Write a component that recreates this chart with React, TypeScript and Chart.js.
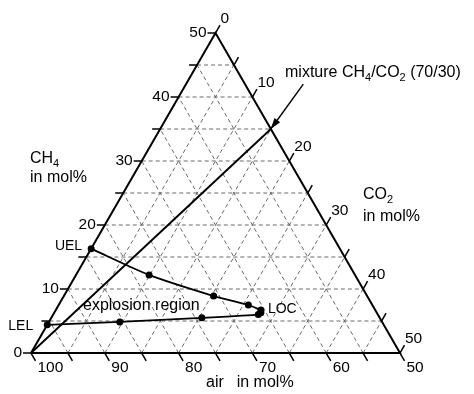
import React, { useEffect, useRef } from "react";
import { Chart, registerables } from "chart.js";

Chart.register(...registerables);

const H = Math.sqrt(3) / 2;

// Axis ticks (every 5 mol%), labelled every 10
const tickValues = [0, 5, 10, 15, 20, 25, 30, 35, 40, 45, 50];
const labelledValues = [0, 10, 20, 30, 40, 50];
const ch4Labels = ["0", "10", "20", "30", "40", "50"];
const co2Labels = ["0", "10", "20", "30", "40", "50"];
const airLabels = ["100", "90", "80", "70", "60", "50"];
const gridValues = [5, 10, 15, 20, 25, 30, 35, 40, 45];

// Triangle frame (CH4, CO2 in mol%)
const frameCH4 = [0, 50, 0, 0];
const frameCO2 = [0, 0, 50, 0];

// Mixture CH4/CO2 (70/30) dilution line
const mixCH4 = [0, 35];
const mixCO2 = [0, 15];

// Arrow pointing to the mixture point
const arrowCH4 = [42, 35];
const arrowCO2 = [15.9, 15];

// Upper explosion limit curve (UEL -> LOC)
const uelCH4 = [16.3, 12.2, 8.9, 7.5, 6.7];
const uelCO2 = [0, 9.9, 20.3, 25.7, 27.8];

// Lower explosion limit curve (LEL -> LOC)
const lelCH4 = [4.4, 4.85, 5.5, 6.0, 6.3];
const lelCO2 = [0, 9.6, 20.4, 27.8, 28.0];

const toXY = (ch4: number, co2: number) => ({ x: co2 + ch4 / 2, y: ch4 * H });
const series = (a: number[], b: number[]) => a.map((v, i) => toXY(v, b[i]));

const FONT = '"Liberation Sans", Arial, sans-serif';

function drawRich(ctx: CanvasRenderingContext2D, parts: [string, boolean][], x: number, y: number, size: number) {
  let cx = x;
  for (const [t, sub] of parts) {
    ctx.font = `${sub ? Math.round(size * 0.7) : size}px ${FONT}`;
    ctx.fillText(t, cx, sub ? y + size * 0.25 : y);
    cx += ctx.measureText(t).width;
  }
}

const ternaryPlugin = {
  id: "ternary",
  beforeDatasetsDraw(chart: any) {
    const { ctx } = chart;
    const xs = chart.scales.x, ys = chart.scales.y;
    const P = (ch4: number, co2: number) => {
      const p = toXY(ch4, co2);
      return [xs.getPixelForValue(p.x), ys.getPixelForValue(p.y)];
    };
    ctx.save();
    ctx.strokeStyle = "#6a6a6a";
    ctx.lineWidth = 1;
    ctx.setLineDash([4, 3]);
    const seg = (a: number[], b: number[]) => {
      ctx.beginPath();
      ctx.moveTo(a[0], a[1]);
      ctx.lineTo(b[0], b[1]);
      ctx.stroke();
    };
    for (const v of gridValues) {
      seg(P(v, 0), P(v, 50 - v)); // CH4 const
      seg(P(0, v), P(50 - v, v)); // CO2 const
      seg(P(0, v), P(v, 0)); // air const
    }
    ctx.restore();
  },
  afterDatasetsDraw(chart: any) {
    const { ctx } = chart;
    const xs = chart.scales.x, ys = chart.scales.y;
    const P = (ch4: number, co2: number) => {
      const p = toXY(ch4, co2);
      return [xs.getPixelForValue(p.x), ys.getPixelForValue(p.y)];
    };
    ctx.save();
    ctx.strokeStyle = "#000";
    ctx.fillStyle = "#000";
    ctx.lineWidth = 1.5;
    ctx.setLineDash([]);
    const L = 9;
    const line = (x1: number, y1: number, x2: number, y2: number) => {
      ctx.beginPath();
      ctx.moveTo(x1, y1);
      ctx.lineTo(x2, y2);
      ctx.stroke();
    };
    for (const v of tickValues) {
      // left axis: CH4
      const a = P(v, 0);
      line(a[0], a[1], a[0] - 8, a[1]);
      // right axis: CO2
      const b = P(50 - v, v);
      line(b[0], b[1], b[0] + L * 0.5, b[1] - L * H);
      // bottom axis: air
      const c = P(0, v);
      line(c[0], c[1], c[0] + L * 0.5, c[1] + L * H);
    }
    const numSize = 15.5;
    ctx.font = `${numSize}px ${FONT}`;
    labelledValues.forEach((v, i) => {
      const a = P(v, 0);
      ctx.textAlign = "right";
      ctx.textBaseline = "middle";
      ctx.fillText(ch4Labels[i], a[0] - 9, a[1]);
      const b = P(50 - v, v);
      ctx.textAlign = "left";
      ctx.textBaseline = "alphabetic";
      ctx.fillText(co2Labels[i], b[0] + 5, b[1] - 10);
      const c = P(0, v);
      ctx.fillText(airLabels[i], c[0] + 6.5, c[1] + 18.5);
    });

    // arrow to mixture point
    const s = P(arrowCH4[0], arrowCO2[0]);
    const t = P(arrowCH4[1], arrowCO2[1]);
    const ang = Math.atan2(t[1] - s[1], t[0] - s[0]);
    ctx.lineWidth = 1.4;
    line(s[0], s[1], t[0] - 8 * Math.cos(ang), t[1] - 8 * Math.sin(ang));
    ctx.beginPath();
    ctx.moveTo(t[0], t[1]);
    ctx.lineTo(t[0] - 11 * Math.cos(ang) + 3.5 * Math.sin(ang), t[1] - 11 * Math.sin(ang) - 3.5 * Math.cos(ang));
    ctx.lineTo(t[0] - 11 * Math.cos(ang) - 3.5 * Math.sin(ang), t[1] - 11 * Math.sin(ang) + 3.5 * Math.cos(ang));
    ctx.closePath();
    ctx.fill();

    // texts
    ctx.textAlign = "left";
    ctx.textBaseline = "alphabetic";
    const sz = 16;
    drawRich(ctx, [["mixture CH", false], ["4", true], ["/CO", false], ["2", true], [" (70/30)", false]], 285, 77, sz);
    drawRich(ctx, [["CH", false], ["4", true]], 30, 162.7, sz);
    drawRich(ctx, [["in mol%", false]], 30, 182.3, sz);
    drawRich(ctx, [["CO", false], ["2", true]], 363, 199, sz);
    drawRich(ctx, [["in mol%", false]], 363, 221, sz);
    drawRich(ctx, [["air", false]], 206, 386.7, sz);
    drawRich(ctx, [["in mol%", false]], 236.7, 386.7, sz);
    drawRich(ctx, [["explosion region", false]], 83, 310, sz);

    ctx.font = `14px ${FONT}`;
    ctx.textBaseline = "middle";
    const uel = P(uelCH4[0], uelCO2[0]);
    ctx.textAlign = "right";
    ctx.fillText("UEL", uel[0] - 9, uel[1] - 3);
    const lel = P(lelCH4[0], lelCO2[0]);
    ctx.fillText("LEL", lel[0] - 14, lel[1] + 1.5);
    const loc = P(uelCH4[uelCH4.length - 1], uelCO2[uelCO2.length - 1]);
    ctx.textAlign = "left";
    ctx.fillText("LOC", loc[0] + 7, loc[1] - 1);
    ctx.restore();
  },
};

export default function App() {
  const ref = useRef<HTMLCanvasElement | null>(null);
  useEffect(() => {
    if (!ref.current) return;
    const chart = new Chart(ref.current, {
      type: "scatter",
      data: {
        datasets: [
          {
            data: series(frameCH4, frameCO2),
            showLine: true,
            borderColor: "#000",
            borderWidth: 2,
            pointRadius: 0,
            clip: false,
          } as any,
          {
            data: series(mixCH4, mixCO2),
            showLine: true,
            borderColor: "#000",
            borderWidth: 1.9,
            pointRadius: 0,
            clip: false,
          },
          {
            data: series(uelCH4, uelCO2),
            showLine: true,
            borderColor: "#000",
            backgroundColor: "#000",
            borderWidth: 1.8,
            pointRadius: 3.5,
            pointBorderWidth: 0,
            tension: 0.25,
            clip: false,
          },
          {
            data: series(lelCH4, lelCO2),
            showLine: true,
            borderColor: "#000",
            backgroundColor: "#000",
            borderWidth: 1.8,
            pointRadius: 3.5,
            pointBorderWidth: 0,
            tension: 0.15,
            clip: false,
          },
        ],
      },
      options: {
        animation: false,
        responsive: false,
        maintainAspectRatio: false,
        layout: { padding: { left: 31, right: 74, top: 33, bottom: 41 } },
        plugins: { legend: { display: false }, tooltip: { enabled: false } },
        scales: {
          x: { type: "linear", min: 0, max: 50, display: false },
          y: { type: "linear", min: 0, max: 50 * H, display: false },
        },
      },
      plugins: [ternaryPlugin],
    });
    return () => chart.destroy();
  }, []);
  return (
    <div style={{ position: "fixed", left: 0, top: 0, width: 474, height: 394, background: "#fff" }}>
      <canvas ref={ref} width={474} height={394} style={{ display: "block", width: 474, height: 394 }} />
    </div>
  );
}
